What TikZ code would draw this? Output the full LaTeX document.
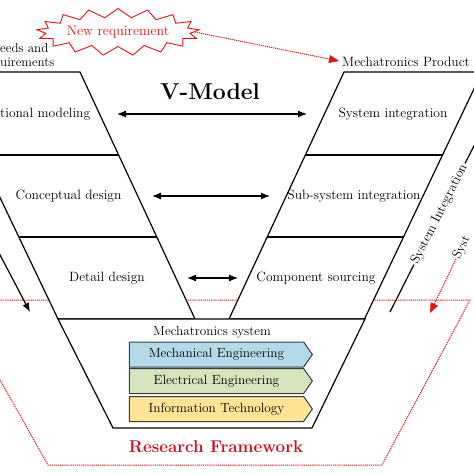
\documentclass[tikz,border=0pt]{standalone}
\usepackage{fontspec}
\usetikzlibrary{shapes.symbols,arrows.meta}
\definecolor{rfred}{RGB}{200,16,36}
\definecolor{dotred}{RGB}{225,20,30}
\definecolor{mechblue}{RGB}{178,218,232}
\definecolor{elecgreen}{RGB}{214,228,190}
\definecolor{ityellow}{RGB}{255,228,150}
\definecolor{boxline}{RGB}{60,60,60}
\tikzset{
  arm/.style={draw=black, fill=white, line width=1.2pt, line join=miter},
  sepline/.style={draw=black, line width=1.2pt},
  lbl/.style={font=\fontsize{13.5}{16}\selectfont, inner sep=0pt},
  dbl/.style={{Latex[length=9pt,width=7pt]}-{Latex[length=9pt,width=7pt]}, line width=1.2pt},
  sgl/.style={-{Latex[length=9pt,width=7pt]}, line width=1.2pt},
  reddot/.style={draw=dotred, line width=1pt, dash pattern=on 1.2pt off 0.9pt},
  redarrow/.style={reddot, -{Triangle[length=10pt,width=8pt,fill=dotred]}},
  discipline/.style={signal, signal to=east, signal pointer angle=110, draw=boxline, line width=1pt,
     minimum width=183pt, minimum height=25pt, inner sep=0pt, font=\fontsize{13.3}{15}\selectfont}
}
\begin{document}
\begin{tikzpicture}[x=1pt,y=-1pt]
\useasboundingbox (0,0) rectangle (474,474);
\clip (0,0) rectangle (474,474);
\fill[white] (0,0) rectangle (474,474);
% research framework boundary
\draw[reddot] (-45,300) -- (470,300) -- (382,465) -- (48,465) -- cycle;
% V arms
\draw[arm] (-60,72) -- (80,72) -- (195,319) -- (58,319) -- cycle;
\draw[arm] (344,72) -- (482,72) -- (364.5,319) -- (229,319) -- cycle;
\draw[arm] (58,319) -- (365,319) -- (312,428) -- (113,428) -- cycle;
% separators
\draw[sepline] (-25,155) -- (118.8,155);
\draw[sepline] (19,237) -- (157,237);
\draw[sepline] (305,155) -- (442,155);
\draw[sepline] (267,237) -- (403.5,237);
% labels
\node[lbl, anchor=west] (fm) at (0,114) {tional modeling};
\node[lbl] (cd) at (68.5,196) {Conceptual design};
\node[lbl] (dd) at (107,278) {Detail design};
\node[lbl] (si) at (393,114) {System integration};
\node[lbl] (ssi) at (354,196) {Sub-system integration};
\node[lbl] (cs) at (316,278) {Component sourcing};
\node[lbl, font=\fontsize{23}{26}\selectfont\bfseries] (vm) at (210,92) {V-Model};
\node[lbl] (mp) at (406,62) {Mechatronics Product};
\node[lbl, anchor=west, align=left, font=\fontsize{13}{14.5}\selectfont] (nr2) at (0,55) {eeds and\\uirements};
\node[lbl, font=\fontsize{13.2}{15}\selectfont] (ms) at (212,332) {Mechatronics system};
\node[lbl, text=rfred, font=\fontsize{17}{20}\selectfont\bfseries] (rf) at (216,447) {Research Framework};
% discipline boxes
\node[discipline, fill=mechblue] (me) at (216.5,354.5) {Mechanical Engineering};
\node[discipline, fill=elecgreen] (ee) at (216.5,381) {Electrical Engineering};
\node[discipline, fill=ityellow] (it) at (216.5,409) {Information Technology};
% horizontal double arrows
\coordinate (a1l) at (117,114); \coordinate (a1r) at (307,114);
\coordinate (a2l) at (152,196); \coordinate (a2r) at (270,196);
\coordinate (a3l) at (187,278); \coordinate (a3r) at (238,278);
\draw[dbl] (a1l) -- (a1r);
\draw[dbl] (a2l) -- (a2r);
\draw[dbl] (a3l) -- (a3r);
% left decomposition arrow
\coordinate (ls) at (-12,232); \coordinate (lt) at (30,312);
\draw[sgl] (ls) -- (lt);
% system integration line
\coordinate (sitop) at (482,130); \coordinate (sibot) at (390,312);
\node[lbl, rotate=63.2, inner sep=1.5pt] (sil) at (439.5,214) {System Integration};
\draw[sepline] (sitop) -- (sil.east);
\draw[sepline] (sil.west) -- (sibot);
% second (partial) label with red arrow
\node[lbl, rotate=63.2, anchor=west, inner sep=1pt, font=\fontsize{13}{15}\selectfont] (sy) at (456,259) {Syst};
\coordinate (sytip) at (430,313);
\draw[redarrow] (sy.west) -- (sytip);
% new requirement starburst
\node[starburst, draw=dotred, fill=white, line width=0.9pt, starburst points=17, starburst point height=9pt,
      random starburst=0, minimum width=148pt, minimum height=47pt, inner sep=0pt,
      text=dotred, font=\fontsize{14}{16}\selectfont] (nr) at (118,32) {New requirement};
\coordinate (mptip) at (339,61);
\draw[redarrow] (nr.east) -- (mptip);
\end{tikzpicture}
\end{document}
